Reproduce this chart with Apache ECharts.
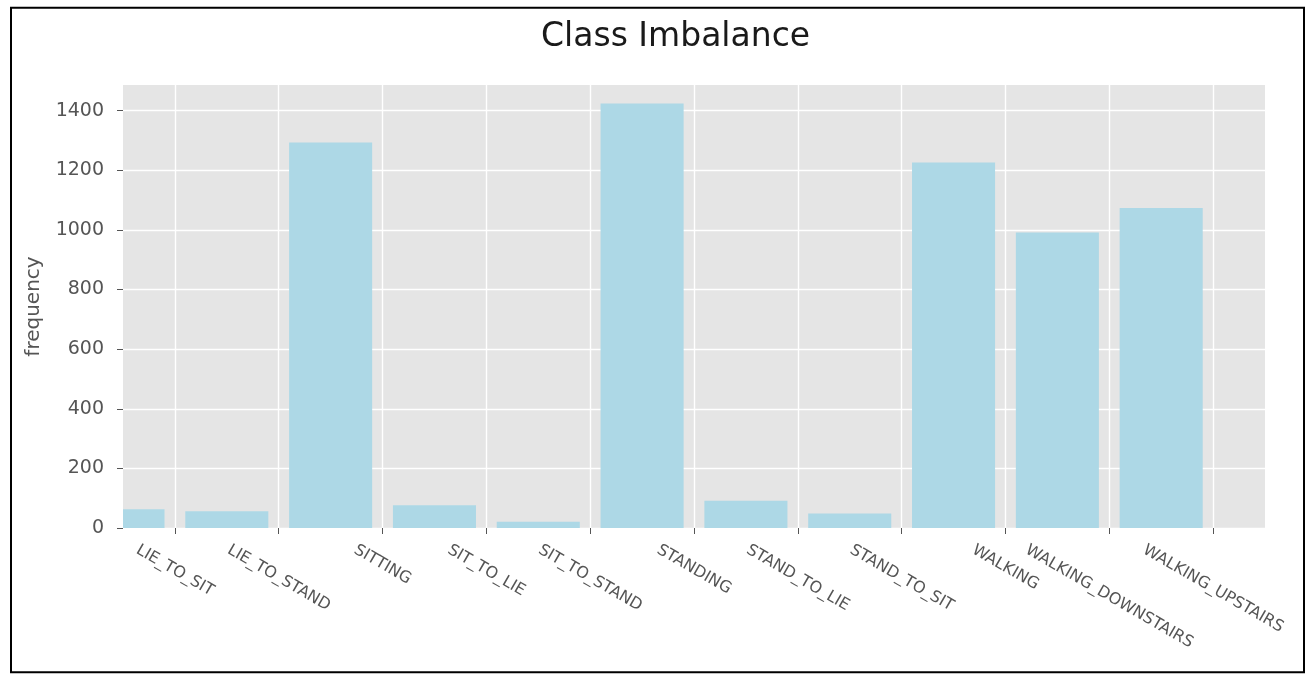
<!DOCTYPE html>
<html><head><meta charset="utf-8">
<script src="https://cdn.jsdelivr.net/npm/echarts@6/dist/echarts.min.js"></script>
<style>html,body{margin:0;padding:0;background:#fff}#main{width:1314px;height:684px}</style>
</head><body><div id="main"></div>
<script>
// ---- data ----
const categories = ['LIE_TO_SIT','LIE_TO_STAND','SITTING','SIT_TO_LIE','SIT_TO_STAND','STANDING','STAND_TO_LIE','STAND_TO_SIT','WALKING','WALKING_DOWNSTAIRS','WALKING_UPSTAIRS'];
const counts = [63, 56, 1293, 76, 21, 1424, 91, 49, 1226, 991, 1073];
const yTicks = [0, 200, 400, 600, 800, 1000, 1200, 1400];
const yMax = 1486;
const xMax = 11;

const FONT = '"DejaVu Sans", "Liberation Sans", sans-serif';
const chart = echarts.init(document.getElementById('main'), null, {renderer: 'canvas'});
const xTicks = categories.map((c, i) => i + 0.5);
const BAR_FRAC = 0.8;

const frame = {
  type: 'rect', id: 'frame', silent: true, z: 100,
  shape: {x: 11, y: 7.7, width: 1293, height: 664.5},
  style: {fill: 'none', stroke: '#000', lineWidth: 2}
};

function renderBar(params, api) {
  const x = api.value(0), y = api.value(1);
  const base = api.coord([x, 0]);
  const top = api.coord([x, y]);
  const bw = api.size([1, 0])[0] * BAR_FRAC;
  const cs = params.coordSys;
  const shape = echarts.graphic.clipRectByRect(
    {x: base[0] - bw / 2, y: top[1], width: bw, height: base[1] - top[1]},
    {x: cs.x, y: cs.y, width: cs.width, height: cs.height}
  );
  return shape && {type: 'rect', shape: shape, style: {fill: '#ADD8E6'}};
}

const option = {
  animation: false,
  backgroundColor: '#fff',
  title: {
    text: 'Class Imbalance', left: 541, top: 21, padding: 0,
    textStyle: {fontFamily: FONT, fontSize: 33, fontWeight: 'normal', color: '#1a1a1a'}
  },
  grid: {left: 123, right: 49, top: 85, bottom: 156, show: true, backgroundColor: '#E5E5E5', borderWidth: 0, containLabel: false, outerBoundsMode: 'none'},
  xAxis: {
    type: 'value', min: 0, max: xMax,
    axisLine: {show: false},
    axisTick: {show: true, length: 6, customValues: xTicks, lineStyle: {color: '#555', width: 1}},
    axisLabel: {show: false, customValues: xTicks},
    splitLine: {show: true, lineStyle: {color: '#fff', width: 1.4}}
  },
  yAxis: {
    type: 'value', min: 0, max: yMax,
    name: 'frequency', nameLocation: 'middle', nameGap: 79,
    nameTextStyle: {fontFamily: FONT, fontSize: 20, color: '#555'},
    axisLine: {show: false},
    axisTick: {show: true, length: 6, customValues: yTicks, lineStyle: {color: '#555', width: 1}},
    axisLabel: {customValues: yTicks, color: '#555', fontSize: 19, fontFamily: FONT, margin: 19, formatter: v => String(v)},
    splitLine: {show: true, lineStyle: {color: '#fff', width: 1.4}}
  },
  series: [{
    type: 'custom', renderItem: renderBar, silent: true,
    encode: {x: 0, y: 1},
    data: counts.map((v, i) => [i, v])
  }],
  graphic: [frame]
};
chart.setOption(option);

// rotated x tick labels (matplotlib-style: rotated bbox centred on tick)
const xf = 16;
const ctx = document.createElement('canvas').getContext('2d');
ctx.font = xf + 'px "DejaVu Sans"';
const ang = Math.PI / 6;
const labelEls = categories.map((c, i) => {
  const p = chart.convertToPixel({xAxisIndex: 0, yAxisIndex: 0}, [xTicks[i], 0]);
  const w = ctx.measureText(c).width;
  const x0 = p[0] - (w * Math.cos(ang) - xf * Math.sin(ang)) / 2;
  const y0 = p[1] + 14;
  return {
    type: 'text', id: 'xl' + i, x: x0, y: y0, rotation: -ang, silent: true,
    style: {text: c, font: xf + 'px "DejaVu Sans"', fill: '#555', textAlign: 'left', textVerticalAlign: 'top', align: 'left', verticalAlign: 'top'}
  };
});
chart.setOption({graphic: [frame].concat(labelEls)});
</script>
</body></html>
